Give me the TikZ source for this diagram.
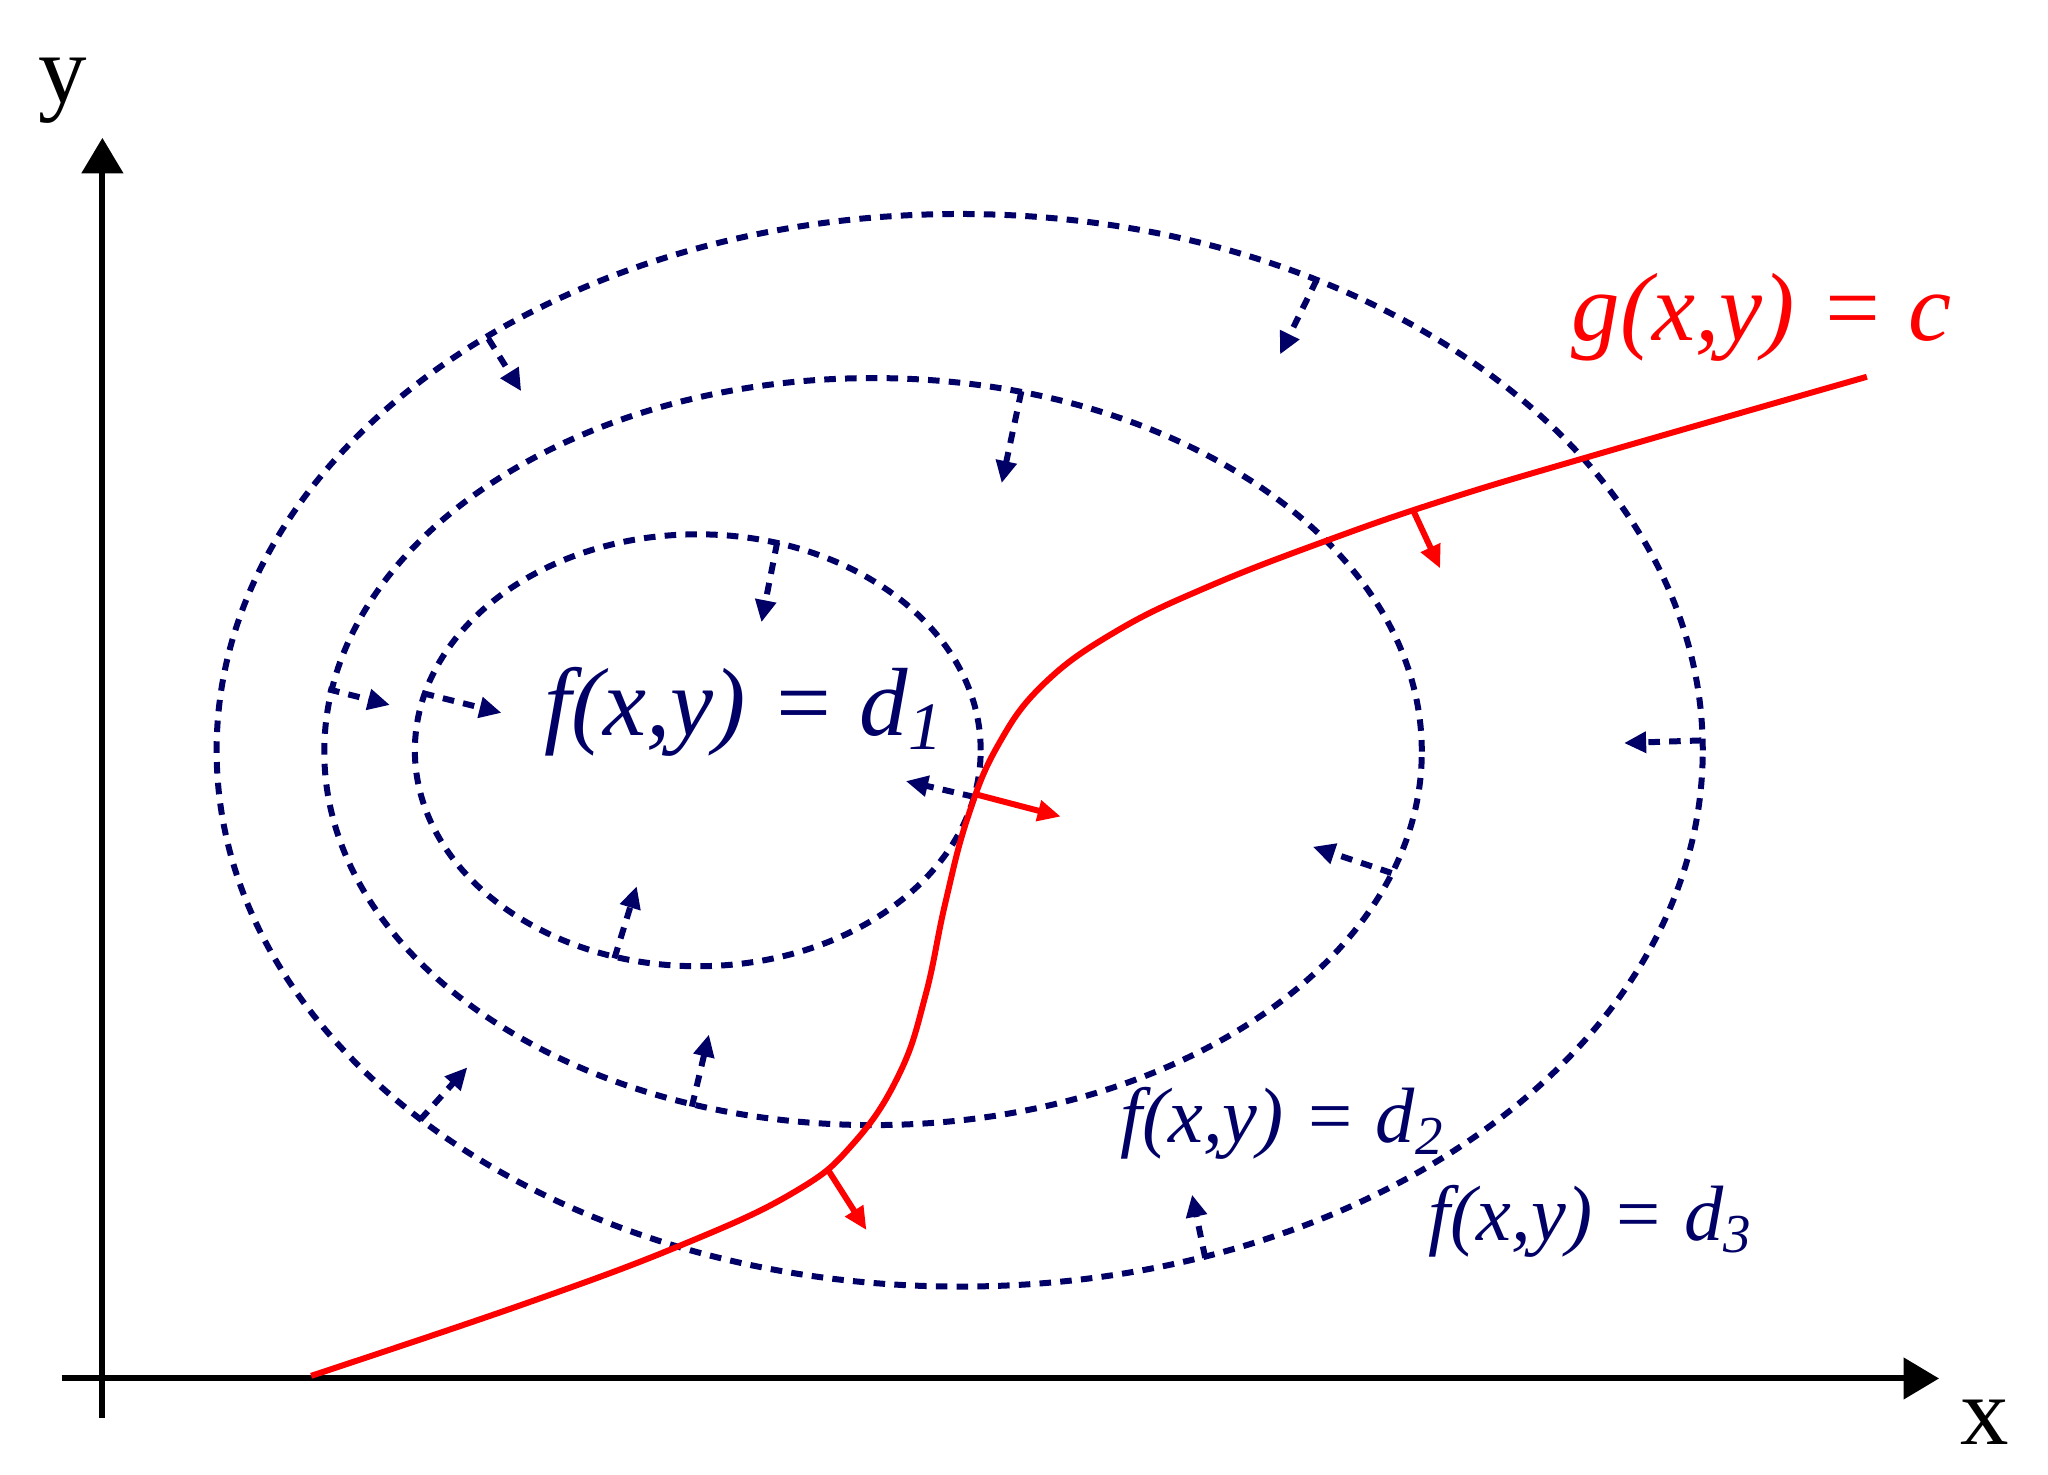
\documentclass[tikz,border=0pt]{standalone}
\usepackage{fontspec}
\setmainfont{Liberation Serif}
\usepackage{xcolor}
\usetikzlibrary{arrows.meta}
\definecolor{navy}{RGB}{0,0,102}

\begin{document}
\begin{tikzpicture}[
level/.style={navy, line width=1.3pt, dash pattern=on 2.5pt off 2pt},
grad/.style={level, -{Triangle[length=4.8pt,width=4.4pt]}},
normal/.style={red, line width=1.3pt, -{Triangle[length=5pt,width=4.4pt]}},
axis/.style={line width=1.3pt, -{Triangle[length=7.7pt,width=8.8pt]}},
big/.style={font=\fontsize{21}{21}\selectfont, inner sep=0pt, anchor=base},
small/.style={font=\fontsize{17}{17}\selectfont, inner sep=0pt, anchor=base}]
\useasboundingbox (0,0) rectangle (15.6,11.23);
% axes
\coordinate (xstart) at (0.47,0.73);
\coordinate (xend) at (14.77,0.73);
\coordinate (ystart) at (0.78,0.43);
\coordinate (yend) at (0.78,10.18);
\draw[axis] (xstart)--(xend);
\draw[axis] (ystart)--(yend);
\node[big] (ylab) at (0.48,10.45) {y};
\node[big] (xlab) at (15.12,0.23) {x};
% level sets of f
\coordinate (c1) at (5.315,5.515);
\coordinate (c2) at (6.65,5.505);
\coordinate (c3) at (7.31,5.515);
\draw[level] (c1) ellipse [x radius=2.155, y radius=1.645];
\draw[level] (c2) ellipse [x radius=4.18, y radius=2.845];
\draw[level] (c3) ellipse [x radius=5.66, y radius=4.085];
\foreach \xa/\ya/\xb/\yb in {10.03/9.10/9.75/8.53, 3.72/8.65/3.97/8.25,
  12.96/5.59/12.37/5.57, 3.20/2.70/3.56/3.10, 9.18/1.65/9.08/2.13,
  7.78/8.25/7.63/7.55, 2.50/5.98/2.97/5.86, 10.60/4.58/10.00/4.78,
  5.27/2.80/5.40/3.35, 5.92/7.10/5.80/6.49, 3.22/5.95/3.82/5.80,
  7.42/5.16/6.90/5.28, 4.68/3.93/4.85/4.48}{
\draw[grad] (\xa,\ya)--(\xb,\yb);
}
% constraint g
\draw[red, line width=1.3pt] plot[smooth, tension=0.7] coordinates {
(2.37,0.75) (4.00,1.30) (5.20,1.75) (6.05,2.15) (6.50,2.52) (6.85,3.05)
(7.05,3.65) (7.20,4.35) (7.37,5.00) (7.60,5.55) (7.95,6.02) (8.50,6.42)
(9.20,6.76) (10.10,7.11) (11.00,7.42) (12.10,7.75) (14.22,8.36)};
\draw[normal] (10.77,7.33)--(10.97,6.90);
\draw[normal] (7.43,5.18)--(8.08,5.01);
\draw[normal] (6.30,2.33)--(6.60,1.86);
% labels
\node[big, navy] (d1) at (5.67,5.63) {\itshape f(x,y) = d\textsubscript{1}};
\node[small, navy] (d2) at (9.77,2.53) {\itshape f(x,y) = d\textsubscript{2}};
\node[small, navy] (d3) at (12.12,1.78) {\itshape f(x,y) = d\textsubscript{3}};
\node[big, red] (g) at (13.42,8.64) {\itshape g(x,y) = c};
\end{tikzpicture}
\end{document}
